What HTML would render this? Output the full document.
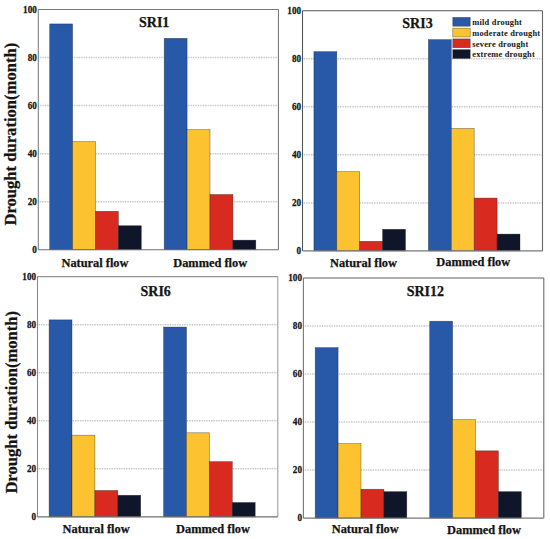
<!DOCTYPE html><html><head><meta charset="utf-8"><style>html,body{margin:0;padding:0;background:#fff;}svg{display:block;}text{font-family:"Liberation Serif",serif;font-weight:bold;fill:#141414;stroke:#141414;stroke-width:0.25px;}</style></head><body>
<svg width="550" height="539" viewBox="0 0 550 539">
<rect x="0" y="0" width="550" height="539" fill="#fff"/>
<line x1="38.3" y1="201.70" x2="278.45" y2="201.70" stroke="#bcbcbc" stroke-width="1.5" stroke-dasharray="0.85,0.85"/>
<line x1="38.3" y1="153.65" x2="278.45" y2="153.65" stroke="#bcbcbc" stroke-width="1.5" stroke-dasharray="0.85,0.85"/>
<line x1="38.3" y1="105.60" x2="278.45" y2="105.60" stroke="#bcbcbc" stroke-width="1.5" stroke-dasharray="0.85,0.85"/>
<line x1="38.3" y1="57.55" x2="278.45" y2="57.55" stroke="#bcbcbc" stroke-width="1.5" stroke-dasharray="0.85,0.85"/>
<rect x="49.70" y="23.92" width="22.90" height="225.83" fill="#2858a8" stroke="rgba(25,25,25,0.55)" stroke-width="0.6"/>
<rect x="72.60" y="141.64" width="22.90" height="108.11" fill="#fdc22f" stroke="rgba(25,25,25,0.55)" stroke-width="0.6"/>
<rect x="95.50" y="211.31" width="22.90" height="38.44" fill="#d92a20" stroke="rgba(25,25,25,0.55)" stroke-width="0.6"/>
<rect x="118.40" y="225.72" width="22.90" height="24.03" fill="#0f1629" stroke="rgba(25,25,25,0.55)" stroke-width="0.6"/>
<rect x="164.20" y="38.33" width="22.90" height="211.42" fill="#2858a8" stroke="rgba(25,25,25,0.55)" stroke-width="0.6"/>
<rect x="187.10" y="129.62" width="22.90" height="120.12" fill="#fdc22f" stroke="rgba(25,25,25,0.55)" stroke-width="0.6"/>
<rect x="210.00" y="194.49" width="22.90" height="55.26" fill="#d92a20" stroke="rgba(25,25,25,0.55)" stroke-width="0.6"/>
<rect x="232.90" y="240.14" width="22.90" height="9.61" fill="#0f1629" stroke="rgba(25,25,25,0.55)" stroke-width="0.6"/>
<line x1="38.3" y1="9.5" x2="278.45" y2="9.5" stroke="#777" stroke-width="1.1"/>
<line x1="278.45" y1="9.5" x2="278.45" y2="249.75" stroke="#7c7c7c" stroke-width="1.1"/>
<line x1="38.3" y1="9.5" x2="38.3" y2="249.75" stroke="#808080" stroke-width="1.1"/>
<line x1="38.3" y1="249.75" x2="278.45" y2="249.75" stroke="#6e6e6e" stroke-width="1.2"/>
<text transform="translate(36.90,253.05) scale(0.92,1)" font-size="10" text-anchor="end">0</text>
<text transform="translate(36.90,205.00) scale(0.92,1)" font-size="10" text-anchor="end">20</text>
<text transform="translate(36.90,156.95) scale(0.92,1)" font-size="10" text-anchor="end">40</text>
<text transform="translate(36.90,108.90) scale(0.92,1)" font-size="10" text-anchor="end">60</text>
<text transform="translate(36.90,60.85) scale(0.92,1)" font-size="10" text-anchor="end">80</text>
<text transform="translate(36.90,12.80) scale(0.92,1)" font-size="10" text-anchor="end">100</text>
<text x="154.2" y="26.8" font-size="14" text-anchor="middle">SRI1</text>
<text x="95.0" y="266.5" font-size="12.4" text-anchor="middle" textLength="67" lengthAdjust="spacing">Natural flow</text>
<text x="210.15" y="267.2" font-size="12.4" text-anchor="middle" textLength="73.9" lengthAdjust="spacing">Dammed flow</text>
<line x1="302.5" y1="202.88" x2="542.5" y2="202.88" stroke="#bcbcbc" stroke-width="1.5" stroke-dasharray="0.85,0.85"/>
<line x1="302.5" y1="154.86" x2="542.5" y2="154.86" stroke="#bcbcbc" stroke-width="1.5" stroke-dasharray="0.85,0.85"/>
<line x1="302.5" y1="106.84" x2="542.5" y2="106.84" stroke="#bcbcbc" stroke-width="1.5" stroke-dasharray="0.85,0.85"/>
<line x1="302.5" y1="58.82" x2="542.5" y2="58.82" stroke="#bcbcbc" stroke-width="1.5" stroke-dasharray="0.85,0.85"/>
<rect x="313.90" y="51.62" width="22.90" height="199.28" fill="#2858a8" stroke="rgba(25,25,25,0.55)" stroke-width="0.6"/>
<rect x="336.80" y="171.67" width="22.90" height="79.23" fill="#fdc22f" stroke="rgba(25,25,25,0.55)" stroke-width="0.6"/>
<rect x="359.70" y="241.30" width="22.90" height="9.60" fill="#d92a20" stroke="rgba(25,25,25,0.55)" stroke-width="0.6"/>
<rect x="382.60" y="229.29" width="22.90" height="21.61" fill="#0f1629" stroke="rgba(25,25,25,0.55)" stroke-width="0.6"/>
<rect x="428.40" y="39.61" width="22.90" height="211.29" fill="#2858a8" stroke="rgba(25,25,25,0.55)" stroke-width="0.6"/>
<rect x="451.30" y="128.45" width="22.90" height="122.45" fill="#fdc22f" stroke="rgba(25,25,25,0.55)" stroke-width="0.6"/>
<rect x="474.20" y="198.08" width="22.90" height="52.82" fill="#d92a20" stroke="rgba(25,25,25,0.55)" stroke-width="0.6"/>
<rect x="497.10" y="234.09" width="22.90" height="16.81" fill="#0f1629" stroke="rgba(25,25,25,0.55)" stroke-width="0.6"/>
<line x1="302.5" y1="10.8" x2="542.5" y2="10.8" stroke="#555" stroke-width="1.1"/>
<line x1="542.5" y1="10.8" x2="542.5" y2="250.9" stroke="#666" stroke-width="1.1"/>
<line x1="302.5" y1="10.8" x2="302.5" y2="250.9" stroke="#555" stroke-width="1.1"/>
<line x1="302.5" y1="250.9" x2="542.5" y2="250.9" stroke="#777" stroke-width="1.2"/>
<text transform="translate(301.10,254.20) scale(0.92,1)" font-size="10" text-anchor="end">0</text>
<text transform="translate(301.10,206.18) scale(0.92,1)" font-size="10" text-anchor="end">20</text>
<text transform="translate(301.10,158.16) scale(0.92,1)" font-size="10" text-anchor="end">40</text>
<text transform="translate(301.10,110.14) scale(0.92,1)" font-size="10" text-anchor="end">60</text>
<text transform="translate(301.10,62.12) scale(0.92,1)" font-size="10" text-anchor="end">80</text>
<text transform="translate(301.10,14.10) scale(0.92,1)" font-size="10" text-anchor="end">100</text>
<text x="417.5" y="27.5" font-size="14" text-anchor="middle">SRI3</text>
<text x="363.5" y="266.5" font-size="12.4" text-anchor="middle" textLength="67" lengthAdjust="spacing">Natural flow</text>
<text x="473.25" y="265.9" font-size="12.4" text-anchor="middle" textLength="73.9" lengthAdjust="spacing">Dammed flow</text>
<rect x="452.8" y="17.40" width="17.4" height="8.8" fill="#2858a8" stroke="rgba(25,25,25,0.55)" stroke-width="0.6"/>
<text x="472.3" y="25.10" font-size="8.4" textLength="49.6" lengthAdjust="spacing" style="stroke-width:0.05px;fill:#222;stroke:#222">mild drought</text>
<rect x="452.8" y="28.15" width="17.4" height="8.8" fill="#fdc22f" stroke="rgba(25,25,25,0.55)" stroke-width="0.6"/>
<text x="472.3" y="35.85" font-size="8.4" textLength="67.8" lengthAdjust="spacing" style="stroke-width:0.05px;fill:#222;stroke:#222">moderate drought</text>
<rect x="452.8" y="38.90" width="17.4" height="8.8" fill="#d92a20" stroke="rgba(25,25,25,0.55)" stroke-width="0.6"/>
<text x="472.3" y="46.60" font-size="8.4" textLength="56.0" lengthAdjust="spacing" style="stroke-width:0.05px;fill:#222;stroke:#222">severe drought</text>
<rect x="452.8" y="49.65" width="17.4" height="8.8" fill="#0f1629" stroke="rgba(25,25,25,0.55)" stroke-width="0.6"/>
<text x="472.3" y="57.35" font-size="8.4" textLength="62.4" lengthAdjust="spacing" style="stroke-width:0.05px;fill:#222;stroke:#222">extreme drought</text>
<line x1="37.5" y1="468.84" x2="277.8" y2="468.84" stroke="#bcbcbc" stroke-width="1.5" stroke-dasharray="0.85,0.85"/>
<line x1="37.5" y1="420.78" x2="277.8" y2="420.78" stroke="#bcbcbc" stroke-width="1.5" stroke-dasharray="0.85,0.85"/>
<line x1="37.5" y1="372.72" x2="277.8" y2="372.72" stroke="#bcbcbc" stroke-width="1.5" stroke-dasharray="0.85,0.85"/>
<line x1="37.5" y1="324.66" x2="277.8" y2="324.66" stroke="#bcbcbc" stroke-width="1.5" stroke-dasharray="0.85,0.85"/>
<rect x="49.10" y="319.85" width="22.90" height="197.05" fill="#2858a8" stroke="rgba(25,25,25,0.55)" stroke-width="0.6"/>
<rect x="72.00" y="435.20" width="22.90" height="81.70" fill="#fdc22f" stroke="rgba(25,25,25,0.55)" stroke-width="0.6"/>
<rect x="94.90" y="490.47" width="22.90" height="26.43" fill="#d92a20" stroke="rgba(25,25,25,0.55)" stroke-width="0.6"/>
<rect x="117.80" y="495.27" width="22.90" height="21.63" fill="#0f1629" stroke="rgba(25,25,25,0.55)" stroke-width="0.6"/>
<rect x="163.60" y="327.06" width="22.90" height="189.84" fill="#2858a8" stroke="rgba(25,25,25,0.55)" stroke-width="0.6"/>
<rect x="186.50" y="432.80" width="22.90" height="84.10" fill="#fdc22f" stroke="rgba(25,25,25,0.55)" stroke-width="0.6"/>
<rect x="209.40" y="461.63" width="22.90" height="55.27" fill="#d92a20" stroke="rgba(25,25,25,0.55)" stroke-width="0.6"/>
<rect x="232.30" y="502.48" width="22.90" height="14.42" fill="#0f1629" stroke="rgba(25,25,25,0.55)" stroke-width="0.6"/>
<line x1="37.5" y1="276.6" x2="277.8" y2="276.6" stroke="#949494" stroke-width="1.1"/>
<line x1="277.8" y1="276.6" x2="277.8" y2="516.9" stroke="#a0a0a0" stroke-width="1.1"/>
<line x1="37.5" y1="276.6" x2="37.5" y2="516.9" stroke="#8a8a8a" stroke-width="1.1"/>
<line x1="37.5" y1="516.9" x2="277.8" y2="516.9" stroke="#707070" stroke-width="1.2"/>
<text transform="translate(36.10,520.20) scale(0.92,1)" font-size="10" text-anchor="end">0</text>
<text transform="translate(36.10,472.14) scale(0.92,1)" font-size="10" text-anchor="end">20</text>
<text transform="translate(36.10,424.08) scale(0.92,1)" font-size="10" text-anchor="end">40</text>
<text transform="translate(36.10,376.02) scale(0.92,1)" font-size="10" text-anchor="end">60</text>
<text transform="translate(36.10,327.96) scale(0.92,1)" font-size="10" text-anchor="end">80</text>
<text transform="translate(36.10,279.90) scale(0.92,1)" font-size="10" text-anchor="end">100</text>
<text x="155.7" y="296.4" font-size="14" text-anchor="middle">SRI6</text>
<text x="96.1" y="532.5" font-size="12.4" text-anchor="middle" textLength="67" lengthAdjust="spacing">Natural flow</text>
<text x="213.0" y="532.5" font-size="12.4" text-anchor="middle" textLength="73.9" lengthAdjust="spacing">Dammed flow</text>
<line x1="303.4" y1="470.04" x2="543.8" y2="470.04" stroke="#bcbcbc" stroke-width="1.5" stroke-dasharray="0.85,0.85"/>
<line x1="303.4" y1="422.03" x2="543.8" y2="422.03" stroke="#bcbcbc" stroke-width="1.5" stroke-dasharray="0.85,0.85"/>
<line x1="303.4" y1="374.02" x2="543.8" y2="374.02" stroke="#bcbcbc" stroke-width="1.5" stroke-dasharray="0.85,0.85"/>
<line x1="303.4" y1="326.01" x2="543.8" y2="326.01" stroke="#bcbcbc" stroke-width="1.5" stroke-dasharray="0.85,0.85"/>
<rect x="315.20" y="347.61" width="22.90" height="170.44" fill="#2858a8" stroke="rgba(25,25,25,0.55)" stroke-width="0.6"/>
<rect x="338.10" y="443.63" width="22.90" height="74.42" fill="#fdc22f" stroke="rgba(25,25,25,0.55)" stroke-width="0.6"/>
<rect x="361.00" y="489.24" width="22.90" height="28.81" fill="#d92a20" stroke="rgba(25,25,25,0.55)" stroke-width="0.6"/>
<rect x="383.90" y="491.64" width="22.90" height="26.41" fill="#0f1629" stroke="rgba(25,25,25,0.55)" stroke-width="0.6"/>
<rect x="429.70" y="321.21" width="22.90" height="196.84" fill="#2858a8" stroke="rgba(25,25,25,0.55)" stroke-width="0.6"/>
<rect x="452.60" y="419.63" width="22.90" height="98.42" fill="#fdc22f" stroke="rgba(25,25,25,0.55)" stroke-width="0.6"/>
<rect x="475.50" y="450.84" width="22.90" height="67.21" fill="#d92a20" stroke="rgba(25,25,25,0.55)" stroke-width="0.6"/>
<rect x="498.40" y="491.64" width="22.90" height="26.41" fill="#0f1629" stroke="rgba(25,25,25,0.55)" stroke-width="0.6"/>
<line x1="303.4" y1="278.0" x2="543.8" y2="278.0" stroke="#606060" stroke-width="1.1"/>
<line x1="543.8" y1="278.0" x2="543.8" y2="518.05" stroke="#6a6a6a" stroke-width="1.1"/>
<line x1="303.4" y1="278.0" x2="303.4" y2="518.05" stroke="#777" stroke-width="1.1"/>
<line x1="303.4" y1="518.05" x2="543.8" y2="518.05" stroke="#777" stroke-width="1.2"/>
<text transform="translate(302.00,521.35) scale(0.92,1)" font-size="10" text-anchor="end">0</text>
<text transform="translate(302.00,473.34) scale(0.92,1)" font-size="10" text-anchor="end">20</text>
<text transform="translate(302.00,425.33) scale(0.92,1)" font-size="10" text-anchor="end">40</text>
<text transform="translate(302.00,377.32) scale(0.92,1)" font-size="10" text-anchor="end">60</text>
<text transform="translate(302.00,329.31) scale(0.92,1)" font-size="10" text-anchor="end">80</text>
<text transform="translate(302.00,281.30) scale(0.92,1)" font-size="10" text-anchor="end">100</text>
<text x="425.4" y="295.6" font-size="14" text-anchor="middle">SRI12</text>
<text x="365.2" y="533.3" font-size="12.4" text-anchor="middle" textLength="67" lengthAdjust="spacing">Natural flow</text>
<text x="484.0" y="533.6" font-size="12.4" text-anchor="middle" textLength="73.9" lengthAdjust="spacing">Dammed flow</text>
<text transform="translate(16.3,134.15) rotate(-90)" font-size="16.6" text-anchor="middle">Drought duration(month)</text>
<text transform="translate(17.0,402.25) rotate(-90)" font-size="16.6" text-anchor="middle">Drought duration(month)</text>
</svg></body></html>
